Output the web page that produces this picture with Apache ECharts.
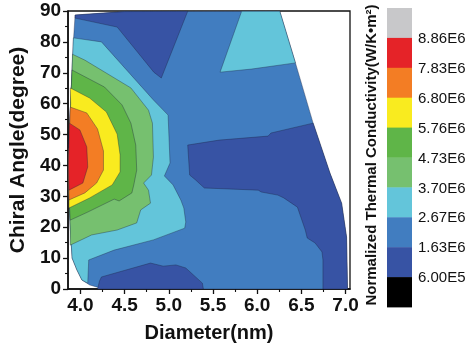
<!DOCTYPE html>
<html>
<head>
<meta charset="utf-8">
<script src="https://cdn.jsdelivr.net/npm/echarts@6.0.0/dist/echarts.min.js"></script>
<style>
  html, body { margin: 0; padding: 0; background: #fff; }
  #chart { width: 474px; height: 349px; }
</style>
</head>
<body>
<div id="chart"></div>
<script>
// Axis ticks
const xTicks = [4.0, 4.5, 5.0, 5.5, 6.0, 6.5, 7.0];
const xMinorTicks = [4.25, 4.75, 5.25, 5.75, 6.25, 6.75];

// Colour bar, top to bottom, and the level values between its boxes
const levelColors = ['#c8c8ca', '#e52328', '#f37d24', '#f9eb1f', '#5fb548', '#76c06f',
                     '#63c5da', '#417dc0', '#3753a4', '#000000'];
const levelLabels = ['8.86E6', '7.83E6', '6.80E6', '5.76E6', '4.73E6', '3.70E6',
                     '2.67E6', '1.63E6', '6.00E5'];

// Contour regions as [diameter (nm), chiral angle (deg)] outlines
const domainOutline = [[3.94, 88.7], [4.5, 89.8], [6.256, 89.9], [6.433, 73.2], [6.633, 53.7],
  [6.822, 37.6], [6.955, 27.8], [7.011, 16.8], [7.022, 0], [4.24, 0], [4.19, 0.6], [4.105, 1.3],
  [4.017, 2.9], [3.96, 6.2], [3.906, 10], [3.885, 20], [3.87, 30], [3.865, 40], [3.875, 50],
  [3.89, 60], [3.905, 70], [3.92, 80]];
const lowTop = [[3.94, 88.7], [4.5, 89.8], [5.214, 89.9], [4.915, 68.3], [4.83, 70.2],
  [4.416, 84.8], [3.94, 87.7]];
const lowRight = [[5.214, 46.6], [5.569, 48.2], [6.123, 49.5], [6.156, 50.5], [6.633, 53.7],
  [6.822, 37.6], [6.955, 27.8], [7.011, 16.8], [7.022, 0], [6.744, 0], [6.744, 9.4],
  [6.733, 12], [6.655, 14.9], [6.566, 16.5], [6.544, 19.1], [6.455, 26.5], [6.3, 29.5],
  [6.234, 30.4], [6.046, 31.4], [6.012, 32], [5.402, 32.7], [5.303, 35.3], [5.236, 36.9]];
const lowBottom = [[4.194, 0], [4.216, 2.6], [4.238, 3.9], [4.793, 8.4], [4.937, 7.4],
  [5.081, 7.8], [5.192, 6.8], [5.38, 1.9], [5.391, 0]];
const cyanLeft = [[3.92, 81.3], [4.238, 80.0], [4.826, 61.2], [4.992, 56.3], [5.014, 40.8],
  [4.95, 36.6], [5.048, 33.7], [5.136, 28.8], [5.17, 26.2], [5.192, 21.7], [5.18, 19.7],
  [4.826, 15.9], [4.382, 12.6], [4.094, 9.4], [4.083, 1.9], [4.017, 2.9], [3.96, 6.2],
  [3.906, 10], [3.885, 20], [3.87, 30], [3.865, 40], [3.875, 50], [3.89, 60], [3.905, 70]];
const cyanTopRight = [[5.824, 89.9], [5.58, 70.2], [5.935, 71.2], [6.433, 73.2], [6.256, 89.9]];
const lightGreen = [[3.91, 76.0], [4.05, 74.1], [4.571, 65.1], [4.77, 57.9], [4.815, 53.7],
  [4.826, 42.7], [4.804, 36.9], [4.715, 34.3], [4.77, 32.0], [4.793, 27.8], [4.682, 25.6],
  [4.637, 21.4], [4.416, 19.1], [4.127, 17.5], [3.885, 14.2], [3.885, 20], [3.87, 30],
  [3.865, 40], [3.875, 50], [3.89, 60], [3.905, 70]];
const green = [[3.905, 70.9], [4.272, 65.4], [4.471, 59.6], [4.571, 53.7], [4.626, 46.6],
  [4.637, 38.5], [4.604, 33.7], [4.582, 31.1], [4.438, 28.5], [4.382, 29.1], [4.083, 24.9],
  [3.885, 22.3], [3.87, 30], [3.865, 40], [3.875, 50], [3.89, 60]];
const yellow = [[3.885, 65.1], [4.105, 61.8], [4.294, 57.3], [4.416, 50.1], [4.449, 43.4],
  [4.449, 37.9], [4.36, 33.7], [4.105, 29.5], [3.87, 26.2], [3.87, 30], [3.865, 40],
  [3.875, 50], [3.89, 60]];
const orange = [[3.885, 58.9], [4.072, 57.0], [4.194, 51.8], [4.261, 44.7], [4.261, 38.5],
  [4.183, 34.3], [4.05, 31.1], [3.87, 28.8], [3.865, 40], [3.875, 50]];
const red = [[3.875, 53.7], [3.994, 51.5], [4.072, 46.0], [4.083, 39.5], [4.028, 34.3],
  [3.87, 32.0], [3.865, 40]];

// Painting order: each later region sits on top of the earlier ones
const layers = [
  [domainOutline, 7], [lowTop, 8], [lowRight, 8], [lowBottom, 8],
  [cyanLeft, 6], [cyanTopRight, 6], [lightGreen, 5], [green, 4],
  [yellow, 3], [orange, 2], [red, 1]
];

const FONT = '"Liberation Sans", Arial, sans-serif';
const chart = echarts.init(document.getElementById('chart'), null, { renderer: 'canvas' });

// Colour bar and its title
const barX = 387, barTop = 8, barW = 25, boxH = 29.9;
const legendGraphics = [];
levelColors.forEach((c, i) => {
  legendGraphics.push({
    type: 'rect', shape: { x: barX, y: barTop + i * boxH, width: barW, height: boxH + 0.4 },
    style: { fill: c }, silent: true
  });
});
levelLabels.forEach((t, i) => {
  legendGraphics.push({
    type: 'text', x: 418, y: barTop + (i + 1) * boxH + 1,
    style: { text: t, font: '15px ' + FONT, fill: '#111', textAlign: 'left', textVerticalAlign: 'middle' },
    silent: true
  });
});
legendGraphics.push({
  type: 'text', x: 372, y: 155, rotation: Math.PI / 2,
  style: { text: 'Normalized Thermal Conductivity(W/K\u2022m\u00b2)', font: 'bold 15px ' + FONT,
           fill: '#111', textAlign: 'center', textVerticalAlign: 'middle' },
  silent: true
});

const axisText = { fontFamily: FONT, fontWeight: 'bold', fontSize: 19, color: '#111' };

chart.setOption({
  animation: false,
  grid: { left: 63, top: 11, width: 287, height: 278, show: true, borderColor: '#111',
          borderWidth: 1.3, backgroundColor: 'transparent' },
  xAxis: [{
    type: 'value', min: 3.86, max: 7.05,
    name: 'Diameter(nm)', nameLocation: 'middle', nameGap: 34,
    nameTextStyle: { fontFamily: FONT, fontWeight: 'bold', fontSize: 20, color: '#111' },
    axisLine: { show: true, lineStyle: { color: '#111', width: 1.6 } },
    axisTick: { show: true, length: 5, lineStyle: { color: '#111', width: 1.3 }, customValues: xTicks },
    axisLabel: Object.assign({ margin: 7, customValues: xTicks, formatter: v => v.toFixed(1) }, axisText),
    splitLine: { show: false }
  }, {
    type: 'value', min: 3.86, max: 7.05, position: 'bottom', gridIndex: 0,
    axisLine: { show: false },
    axisTick: { show: true, length: 3, lineStyle: { color: '#111', width: 1.1 }, customValues: xMinorTicks },
    axisLabel: { show: false }, splitLine: { show: false }
  }],
  yAxis: {
    type: 'value', min: 0, max: 90, interval: 10,
    name: 'Chiral Angle(degree)', nameLocation: 'middle', nameGap: 36,
    nameTextStyle: { fontFamily: FONT, fontWeight: 'bold', fontSize: 21, color: '#111' },
    axisLine: { show: true, lineStyle: { color: '#111', width: 1.6 } },
    axisTick: { show: true, length: 5, lineStyle: { color: '#111', width: 1.3 } },
    minorTick: { show: true, splitNumber: 2, length: 3, lineStyle: { color: '#111', width: 1.1 } },
    axisLabel: Object.assign({ margin: 7 }, axisText),
    splitLine: { show: false }
  },
  graphic: legendGraphics,
  series: [{
    type: 'custom',
    coordinateSystem: 'cartesian2d',
    xAxisIndex: 0, yAxisIndex: 0,
    data: layers.map((l, i) => [i]),
    encode: { x: -1, y: -1 },
    renderItem: function (params, api) {
      const layer = layers[params.dataIndex];
      const pts = layer[0].map(p => api.coord(p));
      return {
        type: 'polygon',
        shape: { points: pts },
        style: { fill: levelColors[layer[1]], stroke: 'rgba(25,30,60,0.6)', lineWidth: 0.6 }
      };
    },
    silent: true
  }]
});
</script>
</body>
</html>
